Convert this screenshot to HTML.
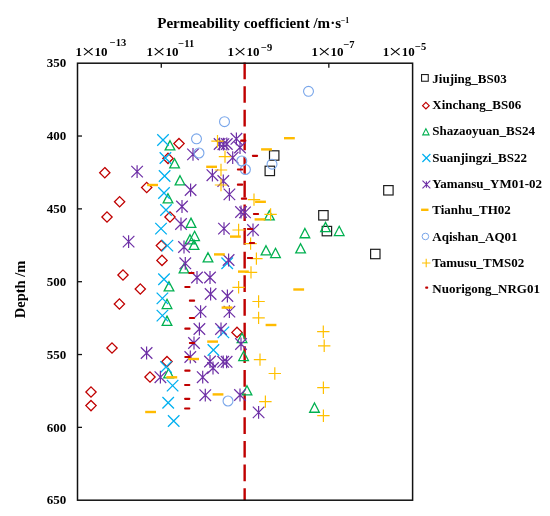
<!DOCTYPE html>
<html lang="en"><head><meta charset="utf-8"><title>Permeability coefficient vs depth</title>
<style>
html,body{margin:0;padding:0;background:#fff;}
body{width:550px;height:516px;overflow:hidden;font-family:"Liberation Serif",serif;}
svg{display:block;}
text{font-family:"Liberation Serif",serif;font-weight:bold;fill:#000;}
.tk{font-size:13px;}
.mul{font-size:19px;font-weight:normal;}
.sup{font-size:10.5px;}
.tt{font-size:15.05px;}
.tsup{font-size:7.8px;}
.yt{font-size:14.5px;}
.lg{font-size:13px;}
</style></head>
<body>
<svg width="550" height="516" viewBox="0 0 550 516">
<rect width="550" height="516" fill="#fff"/>
<text x="157.2" y="27.8" class="tt">Permeability coefficient /m·s</text><text x="340.8" y="23.1" class="tsup">−1</text>
<text x="75.5" y="56.1" class="tk">1</text><text transform="translate(88.6 51.8) scale(1.22 1)" x="-5.7" y="6.65" class="mul">×</text><text x="94.6" y="56.1" class="tk">10</text><text x="109.8" y="46.2" class="sup">−13</text><text x="146.4" y="56.1" class="tk">1</text><text transform="translate(159.5 51.8) scale(1.22 1)" x="-5.7" y="6.65" class="mul">×</text><text x="165.5" y="56.1" class="tk">10</text><text x="178.3" y="47" class="sup">−11</text><text x="227.4" y="56.1" class="tk">1</text><text transform="translate(240.5 51.8) scale(1.22 1)" x="-5.7" y="6.65" class="mul">×</text><text x="246.5" y="56.1" class="tk">10</text><text x="261.1" y="50.7" class="sup">−9</text><text x="311.5" y="56.1" class="tk">1</text><text transform="translate(324.6 51.8) scale(1.22 1)" x="-5.7" y="6.65" class="mul">×</text><text x="330.6" y="56.1" class="tk">10</text><text x="343.4" y="48.3" class="sup">−7</text><text x="382.7" y="56.1" class="tk">1</text><text transform="translate(395.8 51.8) scale(1.22 1)" x="-5.7" y="6.65" class="mul">×</text><text x="401.8" y="56.1" class="tk">10</text><text x="415.1" y="50.3" class="sup">−5</text>
<text x="66.2" y="67.4" text-anchor="end" class="tk">350</text><text x="66.2" y="140.23" text-anchor="end" class="tk">400</text><text x="66.2" y="213.07" text-anchor="end" class="tk">450</text><text x="66.2" y="285.9" text-anchor="end" class="tk">500</text><text x="66.2" y="358.73" text-anchor="end" class="tk">550</text><text x="66.2" y="431.57" text-anchor="end" class="tk">600</text><text x="66.2" y="504.4" text-anchor="end" class="tk">650</text>
<text transform="translate(24.7 289.4) rotate(-90)" text-anchor="middle" class="yt">Depth /m</text>
<path d="M244.65 62.5V500.5" stroke="#c00000" stroke-width="2.4" stroke-dasharray="16.7 6.95" fill="none"/>
<g><rect x="269.5" y="150.8" width="9.4" height="9.4" fill="none" stroke="#1e1e1e" stroke-width="1.2"/><rect x="265.1" y="166.2" width="9.4" height="9.4" fill="none" stroke="#1e1e1e" stroke-width="1.2"/><rect x="383.7" y="185.6" width="9.4" height="9.4" fill="none" stroke="#1e1e1e" stroke-width="1.2"/><rect x="318.7" y="210.6" width="9.4" height="9.4" fill="none" stroke="#1e1e1e" stroke-width="1.2"/><rect x="322.2" y="226.4" width="9.4" height="9.4" fill="none" stroke="#1e1e1e" stroke-width="1.2"/><rect x="370.6" y="249.3" width="9.4" height="9.4" fill="none" stroke="#1e1e1e" stroke-width="1.2"/></g>
<g><path d="M179 138.46L184.14 143.6L179 148.74L173.86 143.6Z" fill="none" stroke="#c00000" stroke-width="1.3"/><path d="M168 153.26L173.14 158.4L168 163.54L162.86 158.4Z" fill="none" stroke="#c00000" stroke-width="1.3"/><path d="M104.8 167.56L109.94 172.7L104.8 177.84L99.66 172.7Z" fill="none" stroke="#c00000" stroke-width="1.3"/><path d="M146.7 182.36L151.84 187.5L146.7 192.64L141.56 187.5Z" fill="none" stroke="#c00000" stroke-width="1.3"/><path d="M119.6 196.66L124.74 201.8L119.6 206.94L114.46 201.8Z" fill="none" stroke="#c00000" stroke-width="1.3"/><path d="M107 211.86L112.14 217L107 222.14L101.86 217Z" fill="none" stroke="#c00000" stroke-width="1.3"/><path d="M170 211.86L175.14 217L170 222.14L164.86 217Z" fill="none" stroke="#c00000" stroke-width="1.3"/><path d="M161.4 240.46L166.54 245.6L161.4 250.74L156.26 245.6Z" fill="none" stroke="#c00000" stroke-width="1.3"/><path d="M162 255.26L167.14 260.4L162 265.54L156.86 260.4Z" fill="none" stroke="#c00000" stroke-width="1.3"/><path d="M123 269.86L128.14 275L123 280.14L117.86 275Z" fill="none" stroke="#c00000" stroke-width="1.3"/><path d="M140.3 283.86L145.44 289L140.3 294.14L135.16 289Z" fill="none" stroke="#c00000" stroke-width="1.3"/><path d="M119.4 298.86L124.54 304L119.4 309.14L114.26 304Z" fill="none" stroke="#c00000" stroke-width="1.3"/><path d="M237 327.26L242.14 332.4L237 337.54L231.86 332.4Z" fill="none" stroke="#c00000" stroke-width="1.3"/><path d="M112 342.86L117.14 348L112 353.14L106.86 348Z" fill="none" stroke="#c00000" stroke-width="1.3"/><path d="M167 356.46L172.14 361.6L167 366.74L161.86 361.6Z" fill="none" stroke="#c00000" stroke-width="1.3"/><path d="M150 371.86L155.14 377L150 382.14L144.86 377Z" fill="none" stroke="#c00000" stroke-width="1.3"/><path d="M91 386.86L96.14 392L91 397.14L85.86 392Z" fill="none" stroke="#c00000" stroke-width="1.3"/><path d="M91 400.46L96.14 405.6L91 410.74L85.86 405.6Z" fill="none" stroke="#c00000" stroke-width="1.3"/></g>
<g><path d="M170 140.7L174.83 149.95L165.17 149.95Z" fill="none" stroke="#00b050" stroke-width="1.3"/><path d="M174.6 158.7L179.43 167.95L169.77 167.95Z" fill="none" stroke="#00b050" stroke-width="1.3"/><path d="M180 175.7L184.83 184.95L175.17 184.95Z" fill="none" stroke="#00b050" stroke-width="1.3"/><path d="M168 193.7L172.83 202.95L163.17 202.95Z" fill="none" stroke="#00b050" stroke-width="1.3"/><path d="M191 218.1L195.83 227.35L186.17 227.35Z" fill="none" stroke="#00b050" stroke-width="1.3"/><path d="M269.4 210.7L274.23 219.95L264.57 219.95Z" fill="none" stroke="#00b050" stroke-width="1.3"/><path d="M194.6 231.3L199.43 240.55L189.77 240.55Z" fill="none" stroke="#00b050" stroke-width="1.3"/><path d="M190 234.7L194.83 243.95L185.17 243.95Z" fill="none" stroke="#00b050" stroke-width="1.3"/><path d="M194 240.1L198.83 249.35L189.17 249.35Z" fill="none" stroke="#00b050" stroke-width="1.3"/><path d="M208 252.7L212.83 261.95L203.17 261.95Z" fill="none" stroke="#00b050" stroke-width="1.3"/><path d="M184 263.7L188.83 272.95L179.17 272.95Z" fill="none" stroke="#00b050" stroke-width="1.3"/><path d="M169 281.7L173.83 290.95L164.17 290.95Z" fill="none" stroke="#00b050" stroke-width="1.3"/><path d="M167 299.3L171.83 308.55L162.17 308.55Z" fill="none" stroke="#00b050" stroke-width="1.3"/><path d="M167 316.1L171.83 325.35L162.17 325.35Z" fill="none" stroke="#00b050" stroke-width="1.3"/><path d="M242 333.3L246.83 342.55L237.17 342.55Z" fill="none" stroke="#00b050" stroke-width="1.3"/><path d="M243.6 351.3L248.43 360.55L238.77 360.55Z" fill="none" stroke="#00b050" stroke-width="1.3"/><path d="M168.6 368.7L173.43 377.95L163.77 377.95Z" fill="none" stroke="#00b050" stroke-width="1.3"/><path d="M247 385.7L251.83 394.95L242.17 394.95Z" fill="none" stroke="#00b050" stroke-width="1.3"/><path d="M304.9 228.5L309.73 237.75L300.07 237.75Z" fill="none" stroke="#00b050" stroke-width="1.3"/><path d="M325.5 222.4L330.33 231.65L320.67 231.65Z" fill="none" stroke="#00b050" stroke-width="1.3"/><path d="M339.2 226.3L344.03 235.55L334.37 235.55Z" fill="none" stroke="#00b050" stroke-width="1.3"/><path d="M300.6 243.7L305.43 252.95L295.77 252.95Z" fill="none" stroke="#00b050" stroke-width="1.3"/><path d="M266 245.7L270.83 254.95L261.17 254.95Z" fill="none" stroke="#00b050" stroke-width="1.3"/><path d="M275.5 248.3L280.33 257.55L270.67 257.55Z" fill="none" stroke="#00b050" stroke-width="1.3"/><path d="M314.5 403L319.33 412.25L309.67 412.25Z" fill="none" stroke="#00b050" stroke-width="1.3"/></g>
<g><path d="M157.25 134.25L168.75 145.75M168.75 134.25L157.25 145.75" fill="none" stroke="#00b0f0" stroke-width="1.3"/><path d="M159.66 152.25L171.15 163.75M171.15 152.25L159.66 163.75" fill="none" stroke="#00b0f0" stroke-width="1.3"/><path d="M158.85 170.25L170.34 181.75M170.34 170.25L158.85 181.75" fill="none" stroke="#00b0f0" stroke-width="1.3"/><path d="M158.25 187.25L169.75 198.75M169.75 187.25L158.25 198.75" fill="none" stroke="#00b0f0" stroke-width="1.3"/><path d="M160.25 204.25L171.75 215.75M171.75 204.25L160.25 215.75" fill="none" stroke="#00b0f0" stroke-width="1.3"/><path d="M155.25 222.85L166.75 234.34M166.75 222.85L155.25 234.34" fill="none" stroke="#00b0f0" stroke-width="1.3"/><path d="M161.66 239.85L173.15 251.34M173.15 239.85L161.66 251.34" fill="none" stroke="#00b0f0" stroke-width="1.3"/><path d="M158.25 273.56L169.75 285.05M169.75 273.56L158.25 285.05" fill="none" stroke="#00b0f0" stroke-width="1.3"/><path d="M156.66 292.65L168.15 304.14M168.15 292.65L156.66 304.14" fill="none" stroke="#00b0f0" stroke-width="1.3"/><path d="M156.66 309.86L168.15 321.35M168.15 309.86L156.66 321.35" fill="none" stroke="#00b0f0" stroke-width="1.3"/><path d="M221.45 257.45L232.94 268.94M232.94 257.45L221.45 268.94" fill="none" stroke="#00b0f0" stroke-width="1.3"/><path d="M217.66 326.65L229.15 338.14M229.15 326.65L217.66 338.14" fill="none" stroke="#00b0f0" stroke-width="1.3"/><path d="M207.66 344.25L219.15 355.75M219.15 344.25L207.66 355.75" fill="none" stroke="#00b0f0" stroke-width="1.3"/><path d="M160.25 361.25L171.75 372.75M171.75 361.25L160.25 372.75" fill="none" stroke="#00b0f0" stroke-width="1.3"/><path d="M166.85 379.86L178.34 391.35M178.34 379.86L166.85 391.35" fill="none" stroke="#00b0f0" stroke-width="1.3"/><path d="M162.45 397.06L173.94 408.55M173.94 397.06L162.45 408.55" fill="none" stroke="#00b0f0" stroke-width="1.3"/><path d="M167.95 415.25L179.44 426.75M179.44 415.25L167.95 426.75" fill="none" stroke="#00b0f0" stroke-width="1.3"/></g>
<g><path d="M131.32 165.82L142.88 177.38M142.88 165.82L131.32 177.38M137.1 165.2L137.1 178" fill="none" stroke="#6e30a6" stroke-width="1.2"/><path d="M187.22 148.62L198.78 160.18M198.78 148.62L187.22 160.18M193 148L193 160.8" fill="none" stroke="#6e30a6" stroke-width="1.2"/><path d="M213.82 138.22L225.38 149.78M225.38 138.22L213.82 149.78M219.6 137.6L219.6 150.4" fill="none" stroke="#6e30a6" stroke-width="1.2"/><path d="M217.62 138.42L229.18 149.98M229.18 138.42L217.62 149.98M223.4 137.8L223.4 150.6" fill="none" stroke="#6e30a6" stroke-width="1.2"/><path d="M221.02 138.22L232.58 149.78M232.58 138.22L221.02 149.78M226.8 137.6L226.8 150.4" fill="none" stroke="#6e30a6" stroke-width="1.2"/><path d="M230.62 133.02L242.18 144.58M242.18 133.02L230.62 144.58M236.4 132.4L236.4 145.2" fill="none" stroke="#6e30a6" stroke-width="1.2"/><path d="M234.22 141.72L245.78 153.28M245.78 141.72L234.22 153.28M240 141.1L240 153.9" fill="none" stroke="#6e30a6" stroke-width="1.2"/><path d="M226.92 151.92L238.48 163.48M238.48 151.92L226.92 163.48M232.7 151.3L232.7 164.1" fill="none" stroke="#6e30a6" stroke-width="1.2"/><path d="M206.62 169.42L218.18 180.98M218.18 169.42L206.62 180.98M212.4 168.8L212.4 181.6" fill="none" stroke="#6e30a6" stroke-width="1.2"/><path d="M217.52 175.22L229.08 186.78M229.08 175.22L217.52 186.78M223.3 174.6L223.3 187.4" fill="none" stroke="#6e30a6" stroke-width="1.2"/><path d="M184.82 184.22L196.38 195.78M196.38 184.22L184.82 195.78M190.6 183.6L190.6 196.4" fill="none" stroke="#6e30a6" stroke-width="1.2"/><path d="M223.62 188.62L235.18 200.18M235.18 188.62L223.62 200.18M229.4 188L229.4 200.8" fill="none" stroke="#6e30a6" stroke-width="1.2"/><path d="M176.22 200.72L187.78 212.28M187.78 200.72L176.22 212.28M182 200.1L182 212.9" fill="none" stroke="#6e30a6" stroke-width="1.2"/><path d="M235.22 206.22L246.78 217.78M246.78 206.22L235.22 217.78M241 205.6L241 218.4" fill="none" stroke="#6e30a6" stroke-width="1.2"/><path d="M239.22 206.62L250.78 218.18M250.78 206.62L239.22 218.18M245 206L245 218.8" fill="none" stroke="#6e30a6" stroke-width="1.2"/><path d="M175.22 218.22L186.78 229.78M186.78 218.22L175.22 229.78M181 217.6L181 230.4" fill="none" stroke="#6e30a6" stroke-width="1.2"/><path d="M218.22 222.82L229.78 234.38M229.78 222.82L218.22 234.38M224 222.2L224 235" fill="none" stroke="#6e30a6" stroke-width="1.2"/><path d="M247.22 224.22L258.78 235.78M258.78 224.22L247.22 235.78M253 223.6L253 236.4" fill="none" stroke="#6e30a6" stroke-width="1.2"/><path d="M122.82 235.82L134.38 247.38M134.38 235.82L122.82 247.38M128.6 235.2L128.6 248" fill="none" stroke="#6e30a6" stroke-width="1.2"/><path d="M178.22 241.22L189.78 252.78M189.78 241.22L178.22 252.78M184 240.6L184 253.4" fill="none" stroke="#6e30a6" stroke-width="1.2"/><path d="M222.82 254.22L234.38 265.78M234.38 254.22L222.82 265.78M228.6 253.6L228.6 266.4" fill="none" stroke="#6e30a6" stroke-width="1.2"/><path d="M179.52 257.52L191.08 269.08M191.08 257.52L179.52 269.08M185.3 256.9L185.3 269.7" fill="none" stroke="#6e30a6" stroke-width="1.2"/><path d="M191.22 271.72L202.78 283.28M202.78 271.72L191.22 283.28M197 271.1L197 283.9" fill="none" stroke="#6e30a6" stroke-width="1.2"/><path d="M204.22 271.72L215.78 283.28M215.78 271.72L204.22 283.28M210 271.1L210 283.9" fill="none" stroke="#6e30a6" stroke-width="1.2"/><path d="M204.82 288.22L216.38 299.78M216.38 288.22L204.82 299.78M210.6 287.6L210.6 300.4" fill="none" stroke="#6e30a6" stroke-width="1.2"/><path d="M221.62 290.22L233.18 301.78M233.18 290.22L221.62 301.78M227.4 289.6L227.4 302.4" fill="none" stroke="#6e30a6" stroke-width="1.2"/><path d="M194.82 305.82L206.38 317.38M206.38 305.82L194.82 317.38M200.6 305.2L200.6 318" fill="none" stroke="#6e30a6" stroke-width="1.2"/><path d="M223.62 305.82L235.18 317.38M235.18 305.82L223.62 317.38M229.4 305.2L229.4 318" fill="none" stroke="#6e30a6" stroke-width="1.2"/><path d="M193.62 323.22L205.18 334.78M205.18 323.22L193.62 334.78M199.4 322.6L199.4 335.4" fill="none" stroke="#6e30a6" stroke-width="1.2"/><path d="M215.22 323.22L226.78 334.78M226.78 323.22L215.22 334.78M221 322.6L221 335.4" fill="none" stroke="#6e30a6" stroke-width="1.2"/><path d="M235.22 338.22L246.78 349.78M246.78 338.22L235.22 349.78M241 337.6L241 350.4" fill="none" stroke="#6e30a6" stroke-width="1.2"/><path d="M188.22 337.22L199.78 348.78M199.78 337.22L188.22 348.78M194 336.6L194 349.4" fill="none" stroke="#6e30a6" stroke-width="1.2"/><path d="M140.82 347.22L152.38 358.78M152.38 347.22L140.82 358.78M146.6 346.6L146.6 359.4" fill="none" stroke="#6e30a6" stroke-width="1.2"/><path d="M184.52 351.22L196.08 362.78M196.08 351.22L184.52 362.78M190.3 350.6L190.3 363.4" fill="none" stroke="#6e30a6" stroke-width="1.2"/><path d="M204.22 355.72L215.78 367.28M215.78 355.72L204.22 367.28M210 355.1L210 367.9" fill="none" stroke="#6e30a6" stroke-width="1.2"/><path d="M217.42 356.02L228.98 367.58M228.98 356.02L217.42 367.58M223.2 355.4L223.2 368.2" fill="none" stroke="#6e30a6" stroke-width="1.2"/><path d="M220.82 356.02L232.38 367.58M232.38 356.02L220.82 367.58M226.6 355.4L226.6 368.2" fill="none" stroke="#6e30a6" stroke-width="1.2"/><path d="M207.22 362.22L218.78 373.78M218.78 362.22L207.22 373.78M213 361.6L213 374.4" fill="none" stroke="#6e30a6" stroke-width="1.2"/><path d="M154.62 371.42L166.18 382.98M166.18 371.42L154.62 382.98M160.4 370.8L160.4 383.6" fill="none" stroke="#6e30a6" stroke-width="1.2"/><path d="M196.92 371.42L208.48 382.98M208.48 371.42L196.92 382.98M202.7 370.8L202.7 383.6" fill="none" stroke="#6e30a6" stroke-width="1.2"/><path d="M199.52 389.42L211.08 400.98M211.08 389.42L199.52 400.98M205.3 388.8L205.3 401.6" fill="none" stroke="#6e30a6" stroke-width="1.2"/><path d="M234.22 389.22L245.78 400.78M245.78 389.22L234.22 400.78M240 388.6L240 401.4" fill="none" stroke="#6e30a6" stroke-width="1.2"/><path d="M252.82 406.62L264.38 418.18M264.38 406.62L252.82 418.18M258.6 406L258.6 418.8" fill="none" stroke="#6e30a6" stroke-width="1.2"/></g>
<g><rect x="284" y="137" width="10.8" height="2.4" fill="#ffbb00"/><rect x="261.1" y="148.2" width="10.8" height="2.4" fill="#ffbb00"/><rect x="147.2" y="183.8" width="10.8" height="2.4" fill="#ffbb00"/><rect x="206.2" y="165.6" width="10.8" height="2.4" fill="#ffbb00"/><rect x="255.1" y="200.6" width="10.8" height="2.4" fill="#ffbb00"/><rect x="254.6" y="218.2" width="10.8" height="2.4" fill="#ffbb00"/><rect x="230" y="235.4" width="10.8" height="2.4" fill="#ffbb00"/><rect x="214" y="253.2" width="10.8" height="2.4" fill="#ffbb00"/><rect x="238" y="270.4" width="10.8" height="2.4" fill="#ffbb00"/><rect x="293.3" y="288.3" width="10.8" height="2.4" fill="#ffbb00"/><rect x="221.6" y="306.4" width="10.8" height="2.4" fill="#ffbb00"/><rect x="265.6" y="323.8" width="10.8" height="2.4" fill="#ffbb00"/><rect x="207.2" y="340.4" width="10.8" height="2.4" fill="#ffbb00"/><rect x="188.2" y="357.8" width="10.8" height="2.4" fill="#ffbb00"/><rect x="166.4" y="376.1" width="10.8" height="2.4" fill="#ffbb00"/><rect x="212.6" y="393.2" width="10.8" height="2.4" fill="#ffbb00"/><rect x="145.2" y="410.8" width="10.8" height="2.4" fill="#ffbb00"/></g>
<g><circle cx="308.5" cy="91.3" r="4.95" fill="none" stroke="#79a6ea" stroke-width="1.1"/><circle cx="224.5" cy="121.7" r="4.95" fill="none" stroke="#79a6ea" stroke-width="1.1"/><circle cx="196.5" cy="138.8" r="4.95" fill="none" stroke="#79a6ea" stroke-width="1.1"/><circle cx="199" cy="153" r="4.95" fill="none" stroke="#79a6ea" stroke-width="1.1"/><circle cx="241.8" cy="161" r="4.95" fill="none" stroke="#79a6ea" stroke-width="1.1"/><circle cx="245.4" cy="169.5" r="4.95" fill="none" stroke="#79a6ea" stroke-width="1.1"/><circle cx="272" cy="164.2" r="4.95" fill="none" stroke="#79a6ea" stroke-width="1.1"/><circle cx="228" cy="401" r="4.95" fill="none" stroke="#79a6ea" stroke-width="1.1"/></g>
<g><path d="M211.3 141.2L223.7 141.2M217.5 135L217.5 147.4" fill="none" stroke="#ffc000" stroke-width="1.2"/><path d="M218.8 156.6L231.2 156.6M225 150.4L225 162.8" fill="none" stroke="#ffc000" stroke-width="1.2"/><path d="M214.8 170L227.2 170M221 163.8L221 176.2" fill="none" stroke="#ffc000" stroke-width="1.2"/><path d="M214.8 185L227.2 185M221 178.8L221 191.2" fill="none" stroke="#ffc000" stroke-width="1.2"/><path d="M247.8 199.6L260.2 199.6M254 193.4L254 205.8" fill="none" stroke="#ffc000" stroke-width="1.2"/><path d="M264.4 214.4L276.8 214.4M270.6 208.2L270.6 220.6" fill="none" stroke="#ffc000" stroke-width="1.2"/><path d="M232.4 230L244.8 230M238.6 223.8L238.6 236.2" fill="none" stroke="#ffc000" stroke-width="1.2"/><path d="M244.4 243.6L256.8 243.6M250.6 237.4L250.6 249.8" fill="none" stroke="#ffc000" stroke-width="1.2"/><path d="M250.2 258.6L262.6 258.6M256.4 252.4L256.4 264.8" fill="none" stroke="#ffc000" stroke-width="1.2"/><path d="M244.8 272.4L257.2 272.4M251 266.2L251 278.6" fill="none" stroke="#ffc000" stroke-width="1.2"/><path d="M232.4 287.3L244.8 287.3M238.6 281.1L238.6 293.5" fill="none" stroke="#ffc000" stroke-width="1.2"/><path d="M252.4 301.5L264.8 301.5M258.6 295.3L258.6 307.7" fill="none" stroke="#ffc000" stroke-width="1.2"/><path d="M252.4 317.9L264.8 317.9M258.6 311.7L258.6 324.1" fill="none" stroke="#ffc000" stroke-width="1.2"/><path d="M317.1 331.7L329.5 331.7M323.3 325.5L323.3 337.9" fill="none" stroke="#ffc000" stroke-width="1.2"/><path d="M318 345.8L330.4 345.8M324.2 339.6L324.2 352" fill="none" stroke="#ffc000" stroke-width="1.2"/><path d="M253.8 359.6L266.2 359.6M260 353.4L260 365.8" fill="none" stroke="#ffc000" stroke-width="1.2"/><path d="M268.6 373.5L281 373.5M274.8 367.3L274.8 379.7" fill="none" stroke="#ffc000" stroke-width="1.2"/><path d="M317.2 387.7L329.6 387.7M323.4 381.5L323.4 393.9" fill="none" stroke="#ffc000" stroke-width="1.2"/><path d="M259.2 401.6L271.6 401.6M265.4 395.4L265.4 407.8" fill="none" stroke="#ffc000" stroke-width="1.2"/><path d="M317.2 415.7L329.6 415.7M323.4 409.5L323.4 421.9" fill="none" stroke="#ffc000" stroke-width="1.2"/></g>
<g><rect x="240.2" y="139.6" width="6.2" height="2.2" rx="0.8" fill="#c00000"/><rect x="251.9" y="154.7" width="6.2" height="2.2" rx="0.8" fill="#c00000"/><rect x="236.9" y="168.4" width="6.2" height="2.2" rx="0.8" fill="#c00000"/><rect x="236.9" y="183.5" width="6.2" height="2.2" rx="0.8" fill="#c00000"/><rect x="240.9" y="197.5" width="6.2" height="2.2" rx="0.8" fill="#c00000"/><rect x="252.9" y="212.9" width="6.2" height="2.2" rx="0.8" fill="#c00000"/><rect x="246.9" y="227.9" width="6.2" height="2.2" rx="0.8" fill="#c00000"/><rect x="248.9" y="241.9" width="6.2" height="2.2" rx="0.8" fill="#c00000"/><rect x="246.9" y="256.9" width="6.2" height="2.2" rx="0.8" fill="#c00000"/><rect x="188.3" y="271.9" width="6.2" height="2.2" rx="0.8" fill="#c00000"/><rect x="184.3" y="285.9" width="6.2" height="2.2" rx="0.8" fill="#c00000"/><rect x="188.9" y="299.5" width="6.2" height="2.2" rx="0.8" fill="#c00000"/><rect x="188.9" y="316.9" width="6.2" height="2.2" rx="0.8" fill="#c00000"/><rect x="184.3" y="327.5" width="6.2" height="2.2" rx="0.8" fill="#c00000"/><rect x="188.9" y="341.9" width="6.2" height="2.2" rx="0.8" fill="#c00000"/><rect x="184.3" y="355.9" width="6.2" height="2.2" rx="0.8" fill="#c00000"/><rect x="184.3" y="369.5" width="6.2" height="2.2" rx="0.8" fill="#c00000"/><rect x="184.1" y="383.9" width="6.2" height="2.2" rx="0.8" fill="#c00000"/><rect x="184.1" y="397.7" width="6.2" height="2.2" rx="0.8" fill="#c00000"/><rect x="184.1" y="407.4" width="6.2" height="2.2" rx="0.8" fill="#c00000"/></g>
<rect x="77.5" y="63.2" width="335.1" height="437.0" fill="none" stroke="#111" stroke-width="1.5"/>
<path d="M77.5 136.03h4.5" stroke="#111" stroke-width="1.3"/><path d="M77.5 208.87h4.5" stroke="#111" stroke-width="1.3"/><path d="M77.5 281.7h4.5" stroke="#111" stroke-width="1.3"/><path d="M77.5 354.53h4.5" stroke="#111" stroke-width="1.3"/><path d="M77.5 427.37h4.5" stroke="#111" stroke-width="1.3"/><path d="M161.28 63.2v4.5" stroke="#111" stroke-width="1.3"/><path d="M328.83 63.2v4.5" stroke="#111" stroke-width="1.3"/>
<rect x="421.55" y="74.55" width="6.7" height="6.7" fill="none" stroke="#1e1e1e" stroke-width="1.1"/><text x="432.3" y="82.6" class="lg">Jiujing_BS03</text><path d="M425.9 102.35L429.21 105.66L425.9 108.97L422.59 105.66Z" fill="none" stroke="#c00000" stroke-width="1.2"/><text x="432.3" y="108.96" class="lg">Xinchang_BS06</text><path d="M425.9 128.72L429.06 134.87L422.74 134.87Z" fill="none" stroke="#00b050" stroke-width="1.1"/><text x="432.3" y="135.32" class="lg">Shazaoyuan_BS24</text><path d="M422.42 154L430.38 161.96M430.38 154L422.42 161.96" fill="none" stroke="#00b0f0" stroke-width="1.2"/><text x="432.3" y="161.68" class="lg">Suanjingzi_BS22</text><path d="M422.48 180.53L430.31 188.35M430.31 180.53L422.48 188.35M426.4 181.14L426.4 187.74" fill="none" stroke="#6e30a6" stroke-width="1.1"/><text x="432.3" y="188.04" class="lg">Yamansu_YM01-02</text><rect x="421.1" y="208.6" width="7.4" height="2.4" fill="#ffbb00"/><text x="432.3" y="214.4" class="lg">Tianhu_TH02</text><circle cx="425.4" cy="236.46" r="3.3" fill="none" stroke="#79a6ea" stroke-width="1.0"/><text x="432.3" y="240.76" class="lg">Aqishan_AQ01</text><path d="M422 263.02L430.4 263.02M426.2 258.82L426.2 267.22" fill="none" stroke="#ffc000" stroke-width="1.1"/><text x="432.3" y="267.12" class="lg">Tamusu_TMS02</text><rect x="425.2" y="286.48" width="3" height="2.2" rx="0.8" fill="#c00000"/><text x="432.3" y="293.48" class="lg">Nuorigong_NRG01</text>
</svg>
</body></html>
